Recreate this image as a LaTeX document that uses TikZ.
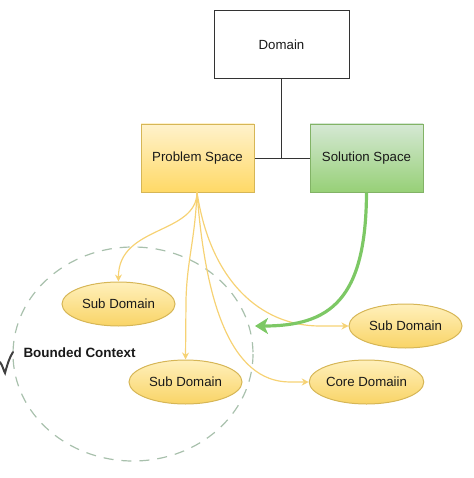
\documentclass[tikz,border=0pt]{standalone}
\usepackage{fontspec}
\setmainfont{Liberation Sans}
\usetikzlibrary{arrows.meta,shapes.geometric}
\definecolor{yborder}{HTML}{D6B656}
\definecolor{ytop}{HTML}{FFF2CC}
\definecolor{ybot}{HTML}{FFD966}
\definecolor{gborder}{HTML}{82B366}
\definecolor{gtop}{HTML}{D5E8D4}
\definecolor{gbot}{HTML}{97D077}
\definecolor{yedge}{HTML}{F6D274}
\definecolor{gedge}{HTML}{7DC865}
\definecolor{dashc}{HTML}{A8C0AC}
\definecolor{etop}{HTML}{FFF0BC}
\definecolor{ebot}{HTML}{F9D466}
\tikzset{
  every node/.style={font=\fontsize{13.3}{15}\selectfont, text=black!90},
  plainbox/.style={draw=black!80, line width=1pt, fill=white, minimum width=135bp, minimum height=68bp},
  probbox/.style={draw=yborder, line width=1pt, top color=ytop, bottom color=ybot, minimum width=113bp, minimum height=68bp},
  solbox/.style={draw=gborder, line width=1pt, top color=gtop, bottom color=gbot, minimum width=113bp, minimum height=68bp},
  subell/.style={ellipse, draw=yborder, line width=1pt, top color=etop, bottom color=ebot, minimum width=113bp, minimum height=44bp, inner sep=0pt},
  yarrow/.style={draw=yedge, line width=1.2pt, -{Stealth[length=7bp,width=7bp]}},
  garrow/.style={draw=gedge, line width=3.2pt, -{Stealth[length=13bp,width=16bp,inset=3.5bp]}},
  link/.style={draw=black!80, line width=1pt},
}
\begin{document}
\begin{tikzpicture}[x=1bp,y=-1bp]
\useasboundingbox (0,0) rectangle (474,478);
% bounded context circle
\draw[dashc, line width=1.2pt, dash pattern=on 10bp off 8bp] (133,354) ellipse [x radius=120, y radius=107];
\node (domain) [plainbox] at (281.5,45) {Domain};
\node (prob) [probbox] at (197.5,158) {Problem Space};
\node (sol) [solbox] at (366.5,158) {Solution Space};
\coordinate (junc) at (281.5,158);
\draw[link] (domain.south) -- (junc);
\draw[link] (prob.east) -- (sol.west);
\node (sd1) [subell] at (118.5,304) {Sub Domain};
\node (sd2) [subell] at (185.5,382) {Sub Domain};
\node (sd3) [subell] at (405.5,326) {Sub Domain};
\node (core) [subell] at (366.5,382) {Core Domaiin};
\node (bc) [anchor=west, font=\fontsize{13.5}{15}\selectfont\bfseries] at (20,353) {Bounded Context};
\coordinate (pb) at (197,192);
\draw[yarrow] (pb) .. controls (197,235) and (118,225) .. (sd1.north);
\draw[yarrow] (pb) .. controls (195,240) and (187,260) .. (186,300) -- (sd2.north);
\draw[yarrow] (pb) .. controls (205,300) and (230,382) .. (290,382) -- (core.west);
\draw[yarrow] (pb) .. controls (210,280) and (260,326) .. (320,326) -- (sd3.west);
\coordinate (gend) at (255,326);
\draw[garrow] (sol.south) .. controls (366,300) and (330,326) .. (gend);
% partial dark stroke at left edge
\draw[black!75, line width=2pt, line cap=round] (0,362) .. controls (3,366) and (4,372) .. (5,373) .. controls (7,366) and (9,358) .. (13,352);
\end{tikzpicture}
\end{document}
